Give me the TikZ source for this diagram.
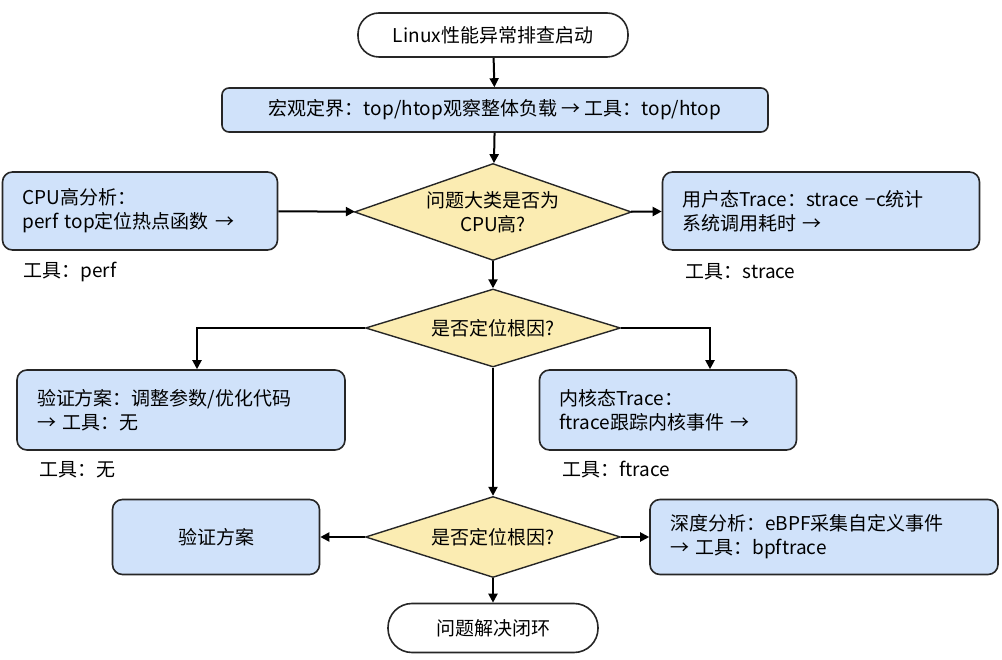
\documentclass[tikz,border=0pt]{standalone}
\usepackage{fontspec}
\setmainfont{Noto Sans CJK SC}
\usetikzlibrary{shapes.geometric,arrows.meta}
\begin{document}
\begin{tikzpicture}[x=1pt,y=-1pt,
  every node/.style={font=\fontsize{19}{24}\selectfont, align=left},
  box/.style={draw=black!85, line width=1.6pt, rounded corners=10pt, fill={rgb,255:red,208;green,226;blue,250}, minimum height=#1, inner xsep=20pt, inner ysep=4pt},
  term/.style={draw=black!85, line width=1.6pt, rounded corners=21pt, fill=white, minimum height=44pt, align=center},
  dia/.style={draw=black!85, line width=1.4pt, diamond, aspect=2.9, fill={rgb,255:red,251;green,236;blue,178}, inner sep=0pt, align=center},
  arr/.style={line width=2pt, -{Triangle[length=9pt,width=9pt]}},
  lab/.style={anchor=west}]
\useasboundingbox (0,0) rectangle (1002,660);
\node[term, minimum width=270pt] (s) at (493,35) {Linux性能异常排查启动};
\node[box=44pt, minimum width=546pt, align=center, rounded corners=7pt] (b1) at (495,110) {宏观定界：top/htop观察整体负载 → 工具：top/htop};
\node[dia, minimum width=277pt, minimum height=97pt] (d1) at (493,212) {问题大类是否为\\CPU高?};
\node[box=78pt, text width=235pt] (cpu) at (140,211) {CPU高分析：\\perf top定位热点函数 →};
\node[lab] (lcpu) at (20,272) {工具：perf};
\node[box=78pt, text width=277pt] (st) at (821,211) {用户态Trace：strace −c统计\\系统调用耗时 →};
\node[lab] (lst) at (682,272) {工具：strace};
\node[dia, minimum width=255pt, minimum height=78pt] (d2) at (493,328) {是否定位根因?};
\node[box=80pt, text width=288pt] (ver) at (181,410) {验证方案：调整参数/优化代码\\→ 工具：无};
\node[lab] (lver) at (36,470) {工具：无};
\node[box=80pt, text width=217pt] (ft) at (668,410) {内核态Trace：\\ftrace跟踪内核事件 →};
\node[lab] (lft) at (559,470) {工具：ftrace};
\node[dia, minimum width=255pt, minimum height=81pt] (d3) at (493,537) {是否定位根因?};
\node[box=75pt, minimum width=207pt, align=center] (v2) at (216,537) {验证方案};
\node[box=75pt, text width=308pt] (eb) at (824,537) {深度分析：eBPF采集自定义事件\\→ 工具：bpftrace};
\node[term, minimum width=210pt, minimum height=49pt, rounded corners=24pt] (e) at (493,628) {问题解决闭环};
\draw[arr] (s) -- (b1);
\draw[arr] (b1) -- (d1);
\draw[arr] (cpu) -- (d1);
\draw[arr] (d1) -- (st);
\draw[arr] (d1) -- (d2);
\draw[arr] (d2.west) -| (ver.north -| 197,0);
\draw[arr] (d2.east) -| (ft.north -| 710,0);
\draw[arr] (d2) -- (d3);
\draw[arr] (d3) -- (v2);
\draw[arr] (d3) -- (eb);
\draw[arr] (d3) -- (e);
\end{tikzpicture}
\end{document}
